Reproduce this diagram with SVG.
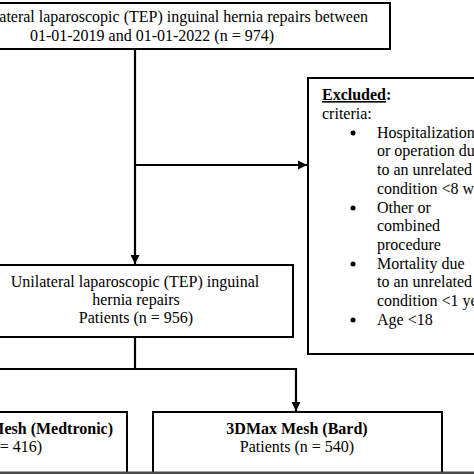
<svg xmlns="http://www.w3.org/2000/svg" width="474" height="474" viewBox="0 0 474 474">
<style>
.box{fill:#fff;stroke:#000;stroke-width:2}
.t{font-family:"Liberation Serif","Times New Roman",serif;font-size:16px;fill:#000}
.c{text-anchor:middle}
.b{font-weight:bold}
.ln{fill:none;stroke:#000;stroke-width:2.2}
</style>
<defs>
<marker id="ah" markerWidth="9" markerHeight="10" refX="9" refY="5" orient="auto" markerUnits="userSpaceOnUse">
<path d="M0,0.5 L9,5 L0,9.5 Z" fill="#000"/>
</marker>
</defs>
<rect width="474" height="474" fill="#fff"/>
<g id="connectors">
<path class="ln" d="M135,49 V264" marker-end="url(#ah)"/>
<path class="ln" d="M135,165 H307" marker-end="url(#ah)"/>
<path class="ln" d="M135,337 V369"/>
<path class="ln" d="M-20,369 H296 V411" marker-end="url(#ah)"/>
</g>
<g id="top">
<rect class="box" x="-120" y="3" width="510" height="46"/>
<text class="t" x="368" y="22" text-anchor="end">Unilateral laparoscopic (TEP) inguinal hernia repairs between</text>
<text class="t c" x="152" y="41">01-01-2019 and 01-01-2022 (n = 974)</text>
</g>
<g id="excluded">
<rect class="box" x="308" y="78" width="200" height="276"/>
<text class="t b" x="322" y="100" text-decoration="underline">Excluded</text>
<text class="t b" x="386" y="100">:</text>
<text class="t" x="322" y="119">criteria:</text>
<g class="t">
<circle cx="353" cy="133" r="2.5"/>
<text x="377" y="138">Hospitalization</text>
<text x="377" y="156">or operation due</text>
<text x="377" y="175">to an unrelated</text>
<text x="377" y="194">condition &lt;8 weeks</text>
<circle cx="353" cy="208" r="2.5"/>
<text x="377" y="213">Other or</text>
<text x="377" y="231">combined</text>
<text x="377" y="250">procedure</text>
<circle cx="353" cy="264" r="2.5"/>
<text x="377" y="269">Mortality due</text>
<text x="377" y="287">to an unrelated</text>
<text x="377" y="306">condition &lt;1 year</text>
<circle cx="353" cy="320" r="2.5"/>
<text x="377" y="325">Age &lt;18</text>
</g>
</g>
<g id="middle">
<rect class="box" x="-30" y="265" width="323" height="72"/>
<text class="t c" x="135" y="287">Unilateral laparoscopic (TEP) inguinal</text>
<text class="t c" x="136" y="305">hernia repairs</text>
<text class="t c" x="136" y="323">Patients (n = 956)</text>
</g>
<g id="left">
<rect class="box" x="-162" y="412" width="289" height="80"/>
<text class="t b" x="113" y="434" text-anchor="end">Mesh (Medtronic)</text>
<text class="t" x="42" y="452" text-anchor="end">Patients (n = 416)</text>
</g>
<g id="right">
<rect class="box" x="153" y="412" width="289" height="80"/>
<text class="t c b" x="297" y="434">3DMax Mesh (Bard)</text>
<text class="t c" x="297" y="452">Patients (n = 540)</text>
</g>
<rect x="0" y="471.5" width="474" height="2.5" fill="#4a4a4a"/>
</svg>
